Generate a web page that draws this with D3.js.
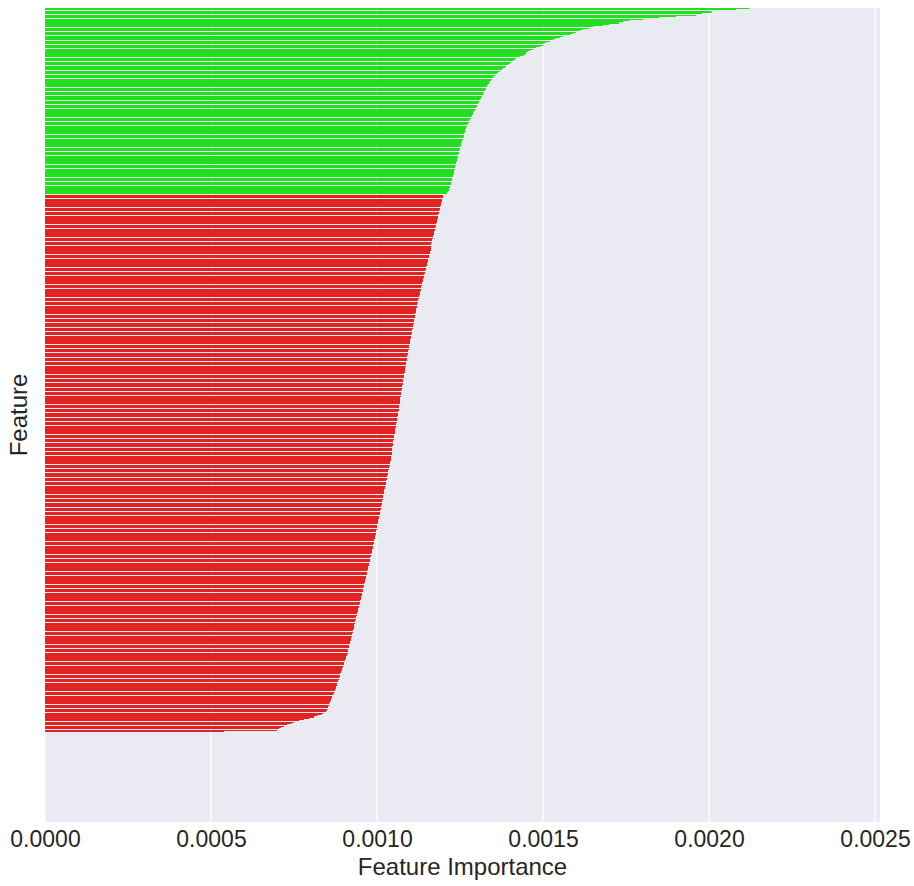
<!DOCTYPE html>
<html><head><meta charset="utf-8">
<script src="https://cdn.jsdelivr.net/npm/d3@7"></script>
<style>body{margin:0;background:#fff}</style></head>
<body><svg id="c" width="914" height="886"></svg>
<script>
// importance values in units of 1e-6
const greenValues = [2120,2080,2010,2005,1980,1960,1900,1850,1800,1760,1740,
1730,1700,1680,1650,1640,1620,1610,1600,1590,1580,
1560,1550,1540,1530,1520,1510,1500,1500,1490,1480,1470,1460,
1455,1450,1445,1440,1430,1420,1415,1410,1405,1400,1395,1390,1385,1380,1375,1370,1365,1360,1355,1350,1348,1345,1342,1340,1337,1335,1332,1330,1328,1326,1324,
1322,1320,1318,1316,1314,1312,1310,1308,1306,1304,1302,1300,1298,1296,1294,1292,1290,1288,1286,1284,1282,1280,1278,1276,1274,1272,1270,1268,1267,1266,1265,1264,1263,1262,1261,1260,1258,1256,
1255,1254,1253,1252,1251,1250,1249,1248,1247,1246,1245,1244,1243,1242,1241,1240,1239,1238,1237,1236,1235,1234,1233,1232,1231,1230,1229,1228,1227,1226,1225,1224,1223,1222,1221,1220,1218,1216,1214,1212,1210];
const redValues = [1200,1199,1198,1197,1196,1195,1194,1193,1192,1191,1190,1189,1188,1187,1186,1185,1184,1184,1183,1182,1181,1180,1179,1178,1177,1176,1175,1174,1173,1172,1171,1170,1169,1168,1167,1166,1165,1164,1164,1163,1163,1162,1162,1161,
1160,1159,1158,1157,1156,1155,1154,1153,1152,1151,1150,1149,1148,1147,1146,1145,1144,1143,1142,1141,1140,1139,1138,1137,1136,1135,1134,1133,1132,1131,1130,1129,1128,1127,1126,1125,1124,1123,
1122,1121,1121,1120,1119,1118,1118,1117,1116,1115,1115,1114,1113,1112,1112,1111,1110,1109,1109,1108,1107,1106,1106,1105,1104,1103,1103,1102,1101,1100,1100,1099,1098,1097,1097,1096,1095,1094,
1093,1093,1092,1091,1091,1090,1089,1089,1088,1087,1087,1086,1085,1085,1084,1083,1083,1082,1081,1081,1080,1079,1079,1078,1077,1077,1076,1075,1075,1074,1073,1073,1072,1071,1071,1070,1070,1070,
1069,1069,1068,1067,1067,1066,1065,1065,1064,1063,1063,1062,1061,1061,1060,1059,1059,1058,1057,1057,1056,1055,1055,1054,1053,1053,1052,1051,1051,1050,1049,1049,1048,1047,1047,1046,1046,1046,1046,
1045,1044,1044,1043,1042,1041,1041,1040,1039,1038,1038,1037,1036,1035,1034,1034,1033,1032,1031,1030,1030,1029,1028,1027,1026,1026,1025,1024,1023,1022,1022,1021,1020,1019,1018,1018,1017,1016,
1015,1014,1014,1013,1012,1011,1011,1010,1009,1008,1008,1007,1006,1005,1004,1004,1003,1002,1001,1000,1000,999,998,997,996,996,995,994,993,992,992,991,990,989,988,988,987,986,
985,984,983,982,981,980,980,979,978,977,976,975,974,973,972,971,970,969,969,968,967,966,965,964,963,962,961,960,959,958,958,957,956,955,954,953,952,951,950,
949,948,947,946,945,944,943,942,941,940,939,938,937,936,935,934,933,932,931,930,930,929,928,927,926,925,924,923,922,921,920,919,918,917,916,915,914,914,
913,912,910,909,908,906,905,904,902,901,900,898,897,896,894,893,892,890,889,888,886,885,884,
883,881,880,878,877,875,873,872,870,869,867,865,864,862,861,859,
858,856,855,853,852,850,849,
845,838,830,820,810,795,780,765,750,740,730,720,710,705,700,540];
const zeroFeatureCount = 69; // features with zero importance (empty rows at bottom)
const xTicks = [0, 0.0005, 0.0010, 0.0015, 0.0020, 0.0025];
const xMax = 0.002515;

const rows = [];
greenValues.forEach(v => rows.push({v: v*1e-6, c: "#20e020"}));
redValues.forEach(v => rows.push({v: v*1e-6, c: "#e32222"}));
for (let i = 0; i < zeroFeatureCount; i++) rows.push({v: 0, c: "#e32222"});
rows.forEach((r, i) => r.id = "f" + i);

const svg = d3.select("#c");
const m = {l: 45, r: 34, t: 8, b: 64};
const W = 914 - m.l - m.r, H = 886 - m.t - m.b;
const g = svg.append("g").attr("transform", `translate(${m.l},${m.t})`);
const x = d3.scaleLinear().domain([0, xMax]).range([0, W]);
const y = d3.scaleBand().domain(rows.map(r => r.id)).range([0, H]).padding(0);

g.append("rect").attr("width", W).attr("height", H).attr("fill", "#eaeaf2");
g.selectAll(".gl").data(xTicks).join("line").attr("x1", d => x(d)).attr("x2", d => x(d))
  .attr("y1", 0).attr("y2", H).attr("stroke", "#fff").attr("stroke-width", 1.3);
g.selectAll(".bar").data(rows).join("rect")
  .attr("x", 0).attr("y", d => y(d.id) + 0.12).attr("height", y.bandwidth() - 0.24)
  .attr("width", d => x(d.v)).attr("fill", d => d.c).attr("shape-rendering", "crispEdges");

const ax = g.append("g").attr("transform", `translate(0,${H})`)
  .call(d3.axisBottom(x).tickValues(xTicks).tickFormat(d3.format(".4f")).tickSize(0).tickPadding(9));
ax.select(".domain").remove();
ax.selectAll("text").attr("font-family", "Liberation Sans, Arial, sans-serif").attr("font-size", 23).attr("fill", "#262626");

svg.append("text").attr("x", m.l + W/2).attr("y", 875).attr("text-anchor", "middle")
  .attr("font-family", "Liberation Sans, Arial, sans-serif").attr("font-size", 24).attr("fill", "#262626")
  .text("Feature Importance");
svg.append("text").attr("transform", `translate(27,${m.t + H/2}) rotate(-90)`).attr("text-anchor", "middle")
  .attr("font-family", "Liberation Sans, Arial, sans-serif").attr("font-size", 24).attr("fill", "#262626")
  .text("Feature");
</script></body></html>
